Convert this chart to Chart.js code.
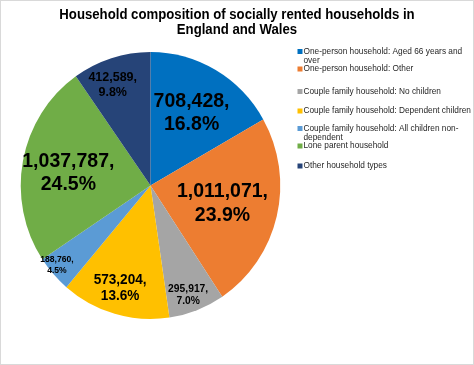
<!DOCTYPE html>
<html>
<head>
<meta charset="utf-8">
<script src="https://cdn.jsdelivr.net/npm/chart.js@4"></script>
<style>
  html, body { margin: 0; padding: 0; background: #ffffff; overflow: hidden; }
  #wrap { width: 474px; height: 365px; position: relative; }
</style>
</head>
<body>
<div id="wrap"><canvas id="c" width="474" height="365"></canvas></div>
<script>
// ---- Data ----
const titleLines = ['Household composition of socially rented households in', 'England and Wales'];
const categories = [
  'One-person household: Aged 66 years and over',
  'One-person household: Other',
  'Couple family household: No children',
  'Couple family household: Dependent children',
  'Couple family household: All children non-dependent',
  'Lone parent household',
  'Other household types'
];
const values = [708428, 1011071, 295917, 573204, 188760, 1037787, 412589];
const percentLabels = ['16.8%', '23.9%', '7.0%', '13.6%', '4.5%', '24.5%', '9.8%'];

// ---- Styles ----
const colors = ['#0070C0', '#ED7D31', '#A5A5A5', '#FFC000', '#5B9BD5', '#70AD47', '#264478'];
const labelFontSizes = [19.5, 19.5, 10.3, 13.6, 8.6, 19.5, 12.5];
const labelRadiusFrac = [0.63, 0.57, 0.87, 0.80, 0.935, 0.64, 0.81];
const labelAngleOffsetDeg = [0, 0, 1.5, 1, 2, -2.2, -3.5];
const legendRowY = [51.5, 69, 91.5, 111, 128.5, 146, 166];
const FONT = '"Liberation Sans", Arial, sans-serif';
const TEXT_STRETCH_Y = 1.08;
const PIE_SCALE_X = 0.972;

function wrapText(ctx, text, maxW) {
  const tokens = text.match(/[^\s-]+-?|\s+/g);
  const lines = [];
  let cur = '';
  for (const t of tokens) {
    const test = cur + t;
    if (ctx.measureText(test.trimEnd()).width > maxW && cur.trim() !== '') {
      lines.push(cur.trimEnd());
      cur = t.trim() === '' ? '' : t;
    } else {
      cur = test;
    }
  }
  if (cur.trim() !== '') lines.push(cur.trimEnd());
  return lines;
}

function stretchedText(ctx, txt, x, y, sy) {
  ctx.save();
  ctx.translate(x, y);
  ctx.scale(1, sy);
  ctx.fillText(txt, 0, 0);
  ctx.restore();
}

const decor = {
  id: 'decor',
  beforeDraw(chart) {
    const ctx = chart.ctx;
    ctx.save();
    ctx.fillStyle = '#ffffff';
    ctx.fillRect(0, 0, chart.width, chart.height);
    ctx.restore();
  },
  beforeDatasetsDraw(chart) {
    const ctx = chart.ctx;
    const a = chart.chartArea;
    const cx = (a.left + a.right) / 2;
    ctx.save();
    ctx.translate(cx, 0);
    ctx.scale(PIE_SCALE_X, 1);
    ctx.translate(-cx, 0);
  },
  afterDatasetsDraw(chart) {
    const ctx = chart.ctx;
    ctx.restore();
    const meta = chart.getDatasetMeta(0);
    ctx.save();
    meta.data.forEach((arc, i) => {
      const p = arc.getProps(['x', 'y', 'startAngle', 'endAngle', 'outerRadius'], true);
      const mid = (p.startAngle + p.endAngle) / 2 + labelAngleOffsetDeg[i] * Math.PI / 180;
      const r = p.outerRadius * labelRadiusFrac[i];
      const cx = p.x + Math.cos(mid) * r * PIE_SCALE_X;
      const cy = p.y + Math.sin(mid) * r;
      const fs = labelFontSizes[i];
      const lh = fs * 1.19;
      ctx.font = 'bold ' + fs + 'px ' + FONT;
      ctx.fillStyle = '#000000';
      ctx.textAlign = 'center';
      ctx.textBaseline = 'middle';
      stretchedText(ctx, values[i].toLocaleString('en-US') + ',', cx, cy - lh / 2, TEXT_STRETCH_Y);
      stretchedText(ctx, percentLabels[i], cx, cy + lh / 2, TEXT_STRETCH_Y);
    });
    ctx.restore();
  },
  afterDraw(chart) {
    const ctx = chart.ctx;
    ctx.save();
    // title
    ctx.font = 'bold 13.2px ' + FONT;
    ctx.fillStyle = '#000000';
    ctx.textAlign = 'center';
    ctx.textBaseline = 'middle';
    titleLines.forEach((t, i) => stretchedText(ctx, t, 237, 15 + i * 15, TEXT_STRETCH_Y));
    // legend
    ctx.font = '8.3px ' + FONT;
    ctx.textAlign = 'left';
    ctx.textBaseline = 'middle';
    categories.forEach((c, i) => {
      const y = legendRowY[i];
      ctx.fillStyle = colors[i];
      ctx.fillRect(297.5, y - 2.5, 5, 5);
      ctx.fillStyle = '#262626';
      const lines = wrapText(ctx, c, 170);
      lines.forEach((ln, j) => stretchedText(ctx, ln, 303.5, y + j * 8.7, TEXT_STRETCH_Y));
    });
    // outer border
    ctx.strokeStyle = '#d9d9d9';
    ctx.lineWidth = 1;
    ctx.strokeRect(0.5, 0.5, chart.width - 1, chart.height - 1);
    ctx.restore();
  }
};

new Chart(document.getElementById('c'), {
  type: 'pie',
  data: {
    labels: categories,
    datasets: [{
      data: values,
      backgroundColor: colors,
      borderWidth: 0
    }]
  },
  options: {
    responsive: false,
    animation: false,
    events: [],
    layout: { padding: { left: 17, right: 190, top: 52, bottom: 46 } },
    plugins: {
      legend: { display: false },
      title: { display: false },
      tooltip: { enabled: false }
    }
  },
  plugins: [decor]
});
</script>
</body>
</html>
